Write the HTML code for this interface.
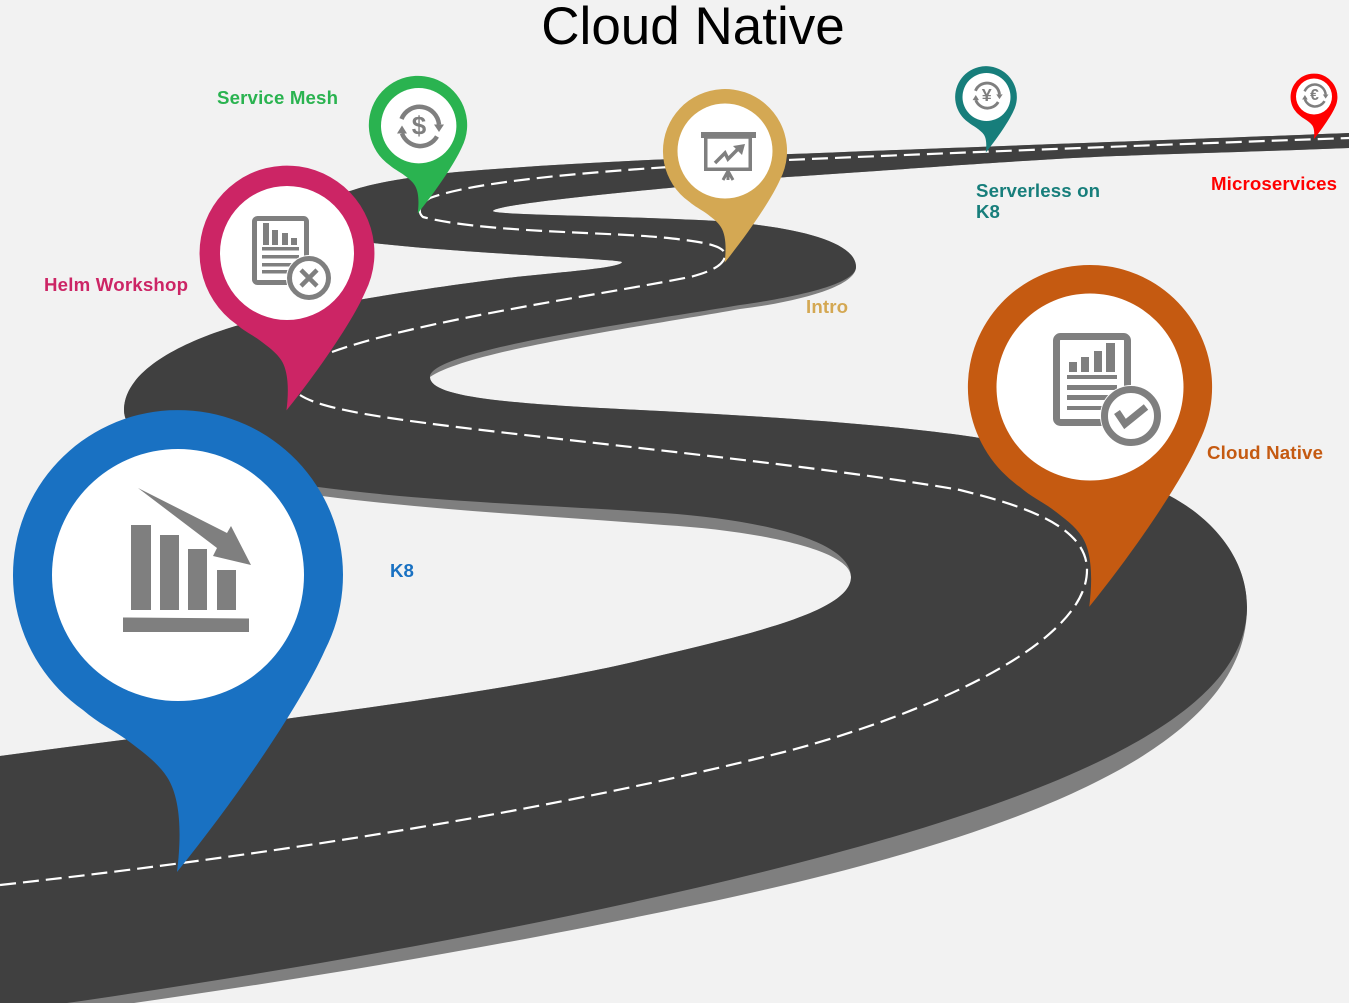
<!DOCTYPE html>
<html>
<head>
<meta charset="utf-8">
<title>Cloud Native</title>
<style>
html,body{margin:0;padding:0;background:#f2f2f2;width:1349px;height:1003px;overflow:hidden}
svg{display:block}
text{font-family:"Liberation Sans",sans-serif}
.l{font-weight:bold;font-size:18.67px}
</style>
</head>
<body>
<svg width="1349" height="1003" viewBox="0 0 1349 1003" xmlns="http://www.w3.org/2000/svg">
<defs>
<path id="pin" d="M-1 297 C3 265 4 225 -11 202 C-20 188 -35 177 -51 165 C-65 155 -80 148 -95 135 A165 165 0 1 1 147 75 C125 125 65 215 -1 297 Z"/>
<g id="cyc">
<path d="M-18.500 -6.500 A19.500 19.500 0 0 1 19 -1" fill="none" stroke="#7f7f7f" stroke-width="4.500"/>
<polygon points="14,-1 24,-1 19,6.500" fill="#7f7f7f"/>
<path d="M17 11 A19.500 19.500 0 0 1 -18 8" fill="none" stroke="#7f7f7f" stroke-width="4.500"/>
<polygon points="-23,8 -13,8 -18,0" fill="#7f7f7f"/>
</g>
</defs>

<rect width="1349" height="1003" fill="#f2f2f2"/>

<!-- road shadow -->
<path fill="#7f7f7f" d="M0 756 C240 724 500 695 650 658 C760 632 851 610 851 577 C851 550 760 531 664 525 C550 516 430 510 322 496 C200 480 124 445 124 410 C124 365 200 335 250 322 C330 302 450 285 507 278 C560 272 622 268 622 262 C620 259 470 254 373 243 C345 240 320 230 325 210 C330 200 340 193 350 191 C370 184 400 178 457 172 C530 166 600 162 673 159 C800 153 1200 139 1349 133 L1349 148 C1250 152 1150 154 1073 158 C950 165 870 172 787 177 C700 185 493 203 493 211 C493 215 600 215 717 221 C790 226 856 240 856 267 C856 288 790 303 740 309 C640 327 470 350 430 377 C430 395 490 402 600 408 C700 413 850 420 960 435 C1040 446 1110 470 1170 496 C1215 520 1247 560 1247 607 C1247 740 1050 830 700 904 C500 946 330 975 134 1003 L0 1003 Z"/>

<!-- road -->
<path fill="#404040" d="M0 756 C240 724 500 695 650 658 C760 632 851 610 851 577 C851 540 760 520 664 513 C550 505 430 502 318 487 C200 470 124 445 124 410 C124 365 200 335 250 322 C330 302 450 285 507 278 C560 272 622 268 622 262 C620 259 470 254 373 243 C345 240 320 230 325 210 C330 200 340 193 350 191 C370 184 400 178 457 172 C530 166 600 162 673 159 C800 153 1200 139 1349 133 L1349 148 C1250 152 1150 154 1073 158 C950 165 870 172 787 177 C700 185 493 203 493 211 C493 215 600 215 717 221 C790 226 856 240 856 267 C856 285 790 298 740 305 C640 322 430 350 430 377 C430 395 490 402 600 408 C700 413 850 420 960 435 C1040 446 1110 470 1170 496 C1215 520 1247 560 1247 607 C1247 725 1030 810 700 887 C480 938 260 975 67 1003 L0 1003 Z"/>

<!-- centre line -->
<path fill="none" stroke="#fff" stroke-width="2.200" stroke-dasharray="16 7" d="M0 885 C300 852 560 808 784 752 C900 722 1087 650 1087 570 C1087 525 1020 505 960 490 C800 462 500 435 390 418 C350 412 315 405 300 395 M332 352 C420 320 600 295 690 277 C710 272 725 265 725 255 C725 245 700 241 657 237 C600 232 480 232 423 217 C418 213 418 205 430 198 C480 180 600 170 787 160 C900 155 1150 145 1349 138"/>

<!-- K8 pin -->
<g transform="translate(178,575)" fill="#1971c2"><use href="#pin"/></g>
<circle cx="178" cy="575" r="126" fill="#fff"/>
<g fill="#7f7f7f">
<rect x="131" y="525" width="20" height="85"/>
<rect x="160" y="535" width="19" height="75"/>
<rect x="188" y="549" width="19" height="61"/>
<rect x="217" y="570" width="19" height="40"/>
<polygon points="123,617.500 249,618.500 249,632 123,632"/>
<polygon points="138,488 227,533 231,526 251,565 213,556 217,548"/>
</g>

<!-- Cloud Native pin -->
<g transform="translate(1090,387) scale(.74)" fill="#c55a11"><use href="#pin"/></g>
<circle cx="1090" cy="387" r="93.500" fill="#fff"/>
<rect x="1056.500" y="336.500" width="71" height="86" rx="4" fill="none" stroke="#7f7f7f" stroke-width="7"/>
<g fill="#7f7f7f">
<rect x="1069" y="362" width="8" height="10"/>
<rect x="1081" y="357" width="8" height="15"/>
<rect x="1094" y="351" width="8" height="21"/>
<rect x="1106" y="343" width="9" height="29"/>
<rect x="1067" y="375" width="50" height="4"/>
<rect x="1067" y="385" width="50" height="5"/>
<rect x="1067" y="395" width="50" height="5"/>
<rect x="1067" y="406" width="50" height="4"/>
</g>
<circle cx="1131" cy="416" r="31" fill="#fff"/>
<circle cx="1131" cy="416" r="26.500" fill="#fff" stroke="#7f7f7f" stroke-width="7"/>
<polyline points="1117,412 1125,424 1146,407" fill="none" stroke="#7f7f7f" stroke-width="7"/>

<!-- Helm pin -->
<g transform="translate(287,253) scale(.53)" fill="#cc2565"><use href="#pin"/></g>
<circle cx="287" cy="253" r="67" fill="#fff"/>
<rect x="254.500" y="218.500" width="52" height="64" rx="3" fill="none" stroke="#7f7f7f" stroke-width="5"/>
<g fill="#7f7f7f">
<rect x="263" y="223" width="6" height="22"/>
<rect x="272" y="230" width="6" height="15"/>
<rect x="282" y="233" width="6" height="12"/>
<rect x="291" y="238" width="6" height="7"/>
<rect x="262" y="247" width="37" height="3.500"/>
<rect x="262" y="255" width="37" height="3.500"/>
<rect x="262" y="263" width="37" height="3.500"/>
<rect x="262" y="270" width="37" height="3.500"/>
</g>
<circle cx="309" cy="278" r="23" fill="#fff"/>
<circle cx="309" cy="278" r="19.500" fill="#fff" stroke="#7f7f7f" stroke-width="5"/>
<path d="M301 270 L317 286 M317 270 L301 286" stroke="#7f7f7f" stroke-width="4.500" fill="none"/>

<!-- Service Mesh pin -->
<g transform="translate(418,125) scale(.298)" fill="#2ab350"><use href="#pin"/></g>
<circle cx="418.700" cy="125.700" r="37.700" fill="#fff"/>
<g transform="translate(420,125.500)"><use href="#cyc"/><text x="-1" y="9" text-anchor="middle" font-size="26" font-weight="bold" fill="#7f7f7f">$</text></g>

<!-- Intro pin -->
<g transform="translate(725,151) scale(.376)" fill="#d4a853"><use href="#pin"/></g>
<circle cx="725" cy="151" r="47.500" fill="#fff"/>
<rect x="701" y="132" width="55" height="6" fill="#7f7f7f"/>
<rect x="705.750" y="137" width="44.500" height="32.250" fill="none" stroke="#7f7f7f" stroke-width="3.500"/>
<polyline points="715,163 725,153 728,159 738,149" fill="none" stroke="#7f7f7f" stroke-width="3.500"/>
<polygon points="745,144 742,155 733,146" fill="#7f7f7f"/>
<path d="M728 171 L723 180 M728 171 L728 180 M728 171 L733 180" stroke="#7f7f7f" stroke-width="3" fill="none"/>

<!-- Serverless pin -->
<g transform="translate(986,97) scale(.187)" fill="#177e7b"><use href="#pin"/></g>
<circle cx="986.500" cy="97" r="24" fill="#fff"/>
<g transform="translate(987.300,95) scale(.64)"><use href="#cyc"/><text x="-1" y="9" text-anchor="middle" font-size="28" font-weight="bold" fill="#7f7f7f">¥</text></g>

<!-- Microservices pin -->
<g transform="translate(1314,97) scale(.142)" fill="#ff0000"><use href="#pin"/></g>
<circle cx="1314" cy="96.500" r="18" fill="#fff"/>
<g transform="translate(1315,95) scale(.56)"><use href="#cyc"/><text x="-1" y="9" text-anchor="middle" font-size="28" font-weight="bold" fill="#7f7f7f">€</text></g>

<!-- labels -->
<text x="693" y="44" text-anchor="middle" font-size="53" fill="#000">Cloud Native</text>
<text class="l" x="217" y="104" fill="#2ab350" textLength="121">Service Mesh</text>
<text class="l" x="44" y="291" fill="#cc2565" textLength="144">Helm Workshop</text>
<text class="l" x="390" y="577" fill="#1971c2">K8</text>
<text class="l" x="806" y="313" fill="#d4a853" textLength="42">Intro</text>
<text class="l" x="1207" y="459" fill="#c55a11" textLength="116">Cloud Native</text>
<text class="l" x="976" y="197" fill="#177e7b" textLength="124">Serverless on</text>
<text class="l" x="976" y="218" fill="#177e7b">K8</text>
<text class="l" x="1211" y="190" fill="#ff0000" textLength="126">Microservices</text>
</svg>
</body>
</html>
